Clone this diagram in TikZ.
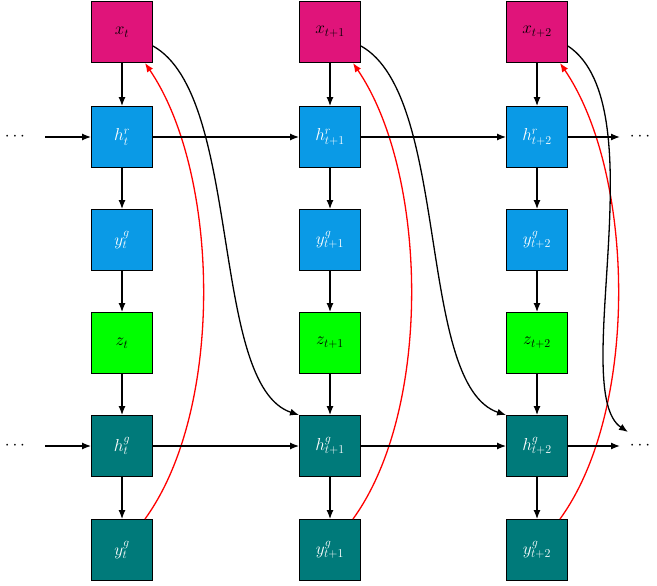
\documentclass[tikz,border=0pt]{standalone}
\usetikzlibrary{arrows.meta}
\definecolor{cx}{HTML}{E0147A}
\definecolor{cb}{HTML}{0A9AE6}
\definecolor{cg}{HTML}{00FF00}
\definecolor{ct}{HTML}{007A7A}
\tikzset{
  box/.style={draw=black, line width=0.9pt, minimum width=61pt, minimum height=61pt, inner sep=0pt, font=\fontsize{17}{20}\selectfont},
  bx/.style={box, fill=cx, text=black},
  bb/.style={box, fill=cb, text=white},
  bz/.style={box, fill=cg, text=black},
  bt/.style={box, fill=ct, text=white},
  arr/.style={-{Latex[length=9pt,width=7pt]}, line width=1.3pt},
  rarr/.style={arr, draw=red},
  dots/.style={font=\fontsize{17}{20}\selectfont}
}
\begin{document}
\begin{tikzpicture}[x=1pt,y=-1pt]
\useasboundingbox (0,0) rectangle (657,586);
\foreach \c/\x/\s in {a/122/t, b/330/{t+1}, c/537/{t+2}}{
  \node[bx] (x\c) at (\x,32) {$x_{\s}$};
  \node[bb] (hr\c) at (\x,137) {$h^r_{\s}$};
  \node[bb] (y\c) at (\x,240) {$y^g_{\s}$};
  \node[bz] (z\c) at (\x,343) {$z_{\s}$};
  \node[bt] (hg\c) at (\x,446) {$h^g_{\s}$};
  \node[bt] (yo\c) at (\x,550) {$y^g_{\s}$};
  \draw[arr] (x\c) -- (hr\c);
  \draw[arr] (hr\c) -- (y\c);
  \draw[arr] (y\c) -- (z\c);
  \draw[arr] (z\c) -- (hg\c);
  \draw[arr] (hg\c) -- (yo\c);
  \draw[rarr] ([xshift=-8pt]yo\c.north east) .. controls +(80,-110) and +(75,110) .. ([xshift=-8pt]x\c.south east);
}
\node[dots] (dl1) at (15,137) {$\cdots$};
\node[dots] (dl2) at (15,446) {$\cdots$};
\node[dots] (dr1) at (640,137) {$\cdots$};
\node[dots] (dr2) at (640,446) {$\cdots$};
\coordinate (l1) at (45,137);
\coordinate (l2) at (45,446);
\coordinate (r1) at (620,137);
\coordinate (r2) at (620,446);
\coordinate (e) at (628,432);
\draw[arr] (l1) -- (hra);
\draw[arr] (hra) -- (hrb);
\draw[arr] (hrb) -- (hrc);
\draw[arr] (hrc) -- (r1);
\draw[arr] (l2) -- (hga);
\draw[arr] (hga) -- (hgb);
\draw[arr] (hgb) -- (hgc);
\draw[arr] (hgc) -- (r2);
\draw[arr] ([yshift=-14pt]xa.east) .. controls +(90,50) and +(-90,-30) .. (hgb.north west);
\draw[arr] ([yshift=-14pt]xb.east) .. controls +(90,50) and +(-90,-30) .. (hgc.north west);
\draw[arr] ([yshift=-14pt]xc.east) .. controls +(90,60) and +(-60,-40) .. (e);
\end{tikzpicture}
\end{document}
